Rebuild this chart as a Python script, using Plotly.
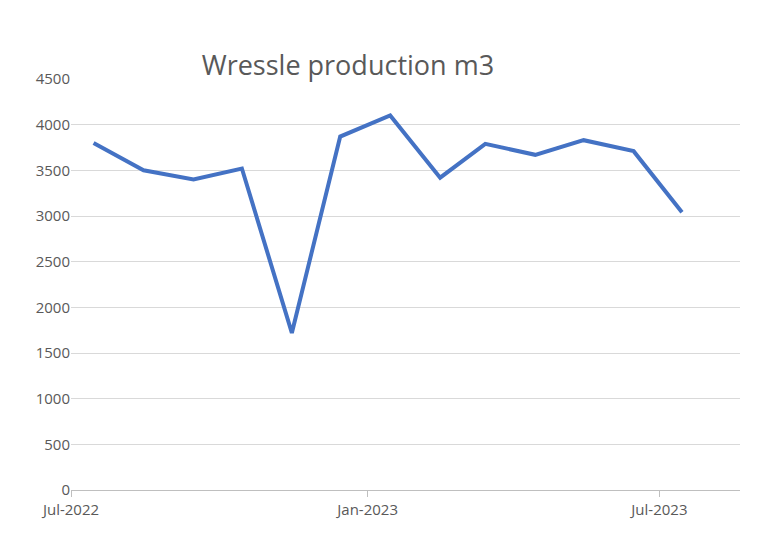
import plotly.graph_objects as go

dates = ["2022-07-15", "2022-08-15", "2022-09-15", "2022-10-15", "2022-11-15",
         "2022-12-15", "2023-01-15", "2023-02-15", "2023-03-15", "2023-04-15",
         "2023-05-15", "2023-06-15", "2023-07-15"]
production = [3800, 3500, 3400, 3520, 1720, 3870, 4100, 3420, 3790, 3670, 3830, 3710, 3040]

tick_dates = ["2022-07-01", "2023-01-01", "2023-07-01"]
tick_labels = ["Jul-2022", "Jan-2023", "Jul-2023"]

fig = go.Figure()
fig.add_trace(go.Scatter(
    x=dates, y=production, mode="lines",
    line=dict(color="#4472C4", width=4),
))

fig.update_layout(
    width=752, height=525,
    paper_bgcolor="white", plot_bgcolor="white",
    margin=dict(l=63, r=20, t=71, b=43),
    showlegend=False,
    font=dict(family="Open Sans, Calibri, sans-serif", color="#595959", size=14),
    title=dict(text="Wressle production m3", x=0.452, xanchor="center",
               y=0.891, yanchor="middle", font=dict(size=27, color="#595959")),
    shapes=[dict(type="rect", xref="paper", yref="paper", x0=-0.106, x1=1.039,
                 y0=-0.122, y1=1.19, line=dict(color="#D9D9D9", width=1))],
)
fig.update_xaxes(
    type="date", range=["2022-07-01", "2023-08-20"],
    tickvals=tick_dates, ticktext=tick_labels,
    showgrid=False, showline=True, linecolor="#BFBFBF",
    ticks="outside", tickcolor="#BFBFBF", ticklen=6,
    tickfont=dict(size=15),
)
fig.update_yaxes(
    range=[0, 4500], dtick=500, showgrid=True, gridcolor="#D9D9D9",
    zeroline=False, showline=False, ticks="",
    tickfont=dict(size=15),
)

fig.write_html("out.html")
